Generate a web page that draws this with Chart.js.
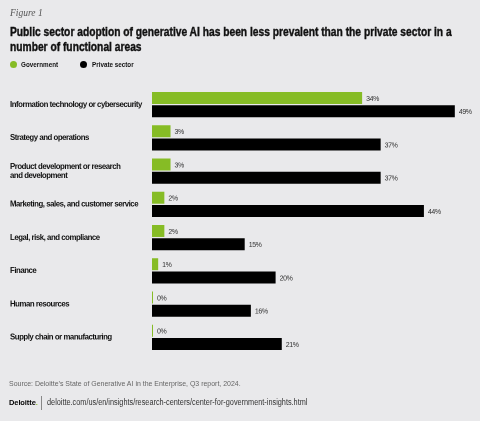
<!DOCTYPE html>
<html>
<head>
<meta charset="utf-8">
<script src="https://cdn.jsdelivr.net/npm/chart.js@4.4.1/dist/chart.umd.min.js"></script>
<style>
  html, body { margin:0; padding:0; }
  body { width:480px; height:421px; background:#e9e9eb; position:relative; overflow:hidden; font-family:"Liberation Sans",Arial,sans-serif; }
  #wrap { position:absolute; left:0; top:0; width:480px; height:421px; }
  .abs { position:absolute; white-space:nowrap; transform-origin:0 0; }
  #fig { left:10px; top:8px; font-family:"Liberation Serif","DejaVu Serif",serif; font-style:italic; font-size:9.5px; color:#555; }
  #title { left:10px; top:25px; font-size:12.5px; font-weight:bold; line-height:15px; color:#111; transform:scaleX(0.82); -webkit-text-stroke:0.4px #111; }
  .leg { top:59.5px; font-size:7.5px; font-weight:bold; color:#111; transform:scaleX(0.84); }
  .dot { position:absolute; top:60.5px; width:7px; height:7px; border-radius:50%; }
  #src { left:9px; top:379px; font-size:8px; color:#666; transform:scaleX(0.87); }
  #logo { left:9px; top:398px; font-size:7.5px; font-weight:bold; color:#000; letter-spacing:-0.1px; }
  #logo span { color:#86bc25; }
  #sep { position:absolute; left:41px; top:396px; width:1px; height:14px; background:#888; }
  #url { left:47px; top:397px; font-size:8.5px; color:#333; transform:scaleX(0.86); }
</style>
</head>
<body>
<div id="wrap"><canvas id="c" width="480" height="421"></canvas></div>
<div class="abs" id="fig">Figure 1</div>
<div class="abs" id="title">Public sector adoption of generative AI has been less prevalent than the private sector in a<br>number of functional areas</div>
<div class="dot" style="left:10px;background:#86bc25"></div>
<div class="abs leg" style="left:21px">Government</div>
<div class="dot" style="left:80px;background:#000"></div>
<div class="abs leg" style="left:92px">Private sector</div>
<div class="abs" id="src">Source: Deloitte’s State of Generative AI in the Enterprise, Q3 report, 2024.</div>
<div class="abs" id="logo">Deloitte<span>.</span></div>
<div id="sep"></div>
<div class="abs" id="url">deloitte.com/us/en/insights/research-centers/center-for-government-insights.html</div>
<script>
const categories = [
  "Information technology or cybersecurity",
  "Strategy and operations",
  ["Product development or research", "and development"],
  "Marketing, sales, and customer service",
  "Legal, risk, and compliance",
  "Finance",
  "Human resources",
  "Supply chain or manufacturing"
];
const government = [34, 3, 3, 2, 2, 1, 0, 0];
const privateSector = [49, 37, 37, 44, 15, 20, 16, 21];
const seriesNames = ["Government", "Private sector"];

const tightText = {
  id: 'tightText',
  beforeDraw(chart) {
    if ('letterSpacing' in chart.ctx) chart.ctx.letterSpacing = '-0.45px';
  }
};

const valueLabels = {
  id: 'valueLabels',
  afterDatasetsDraw(chart) {
    const ctx = chart.ctx;
    ctx.save();
    if ('letterSpacing' in ctx) ctx.letterSpacing = '-0.4px';
    ctx.font = '7px "Liberation Sans", Arial, sans-serif';
    ctx.fillStyle = '#333';
    ctx.textAlign = 'left';
    ctx.textBaseline = 'middle';
    chart.data.datasets.forEach((ds, di) => {
      const meta = chart.getDatasetMeta(di);
      meta.data.forEach((el, i) => {
        const x = Math.max(el.x, el.base + 1);
        ctx.fillText(ds.data[i] + '%', x + 4, el.y + 1);
      });
    });
    ctx.restore();
  }
};

new Chart(document.getElementById('c'), {
  type: 'bar',
  data: {
    labels: categories,
    datasets: [
      { label: seriesNames[0], data: government, backgroundColor: '#86bc25', minBarLength: 1 },
      { label: seriesNames[1], data: privateSector, backgroundColor: '#000000' }
    ]
  },
  options: {
    indexAxis: 'y',
    responsive: false,
    animation: false,
    devicePixelRatio: 2,
    categoryPercentage: 0.8,
    barPercentage: 0.9,
    layout: { padding: { left: 10, top: 88, bottom: 67, right: 19 } },
    plugins: { legend: { display: false }, tooltip: { enabled: false } },
    scales: {
      x: { display: false, min: 0, max: 50 },
      y: {
        grid: { display: false },
        border: { display: false },
        ticks: {
          crossAlign: 'far',
          color: '#111',
          padding: 0,
          font: { family: '"Liberation Sans", Arial, sans-serif', size: 7.8, weight: 'bold', lineHeight: 1.15 }
        },
        afterFit(scale) { scale.width = 142; }
      }
    }
  },
  plugins: [tightText, valueLabels]
});
</script>
</body>
</html>
